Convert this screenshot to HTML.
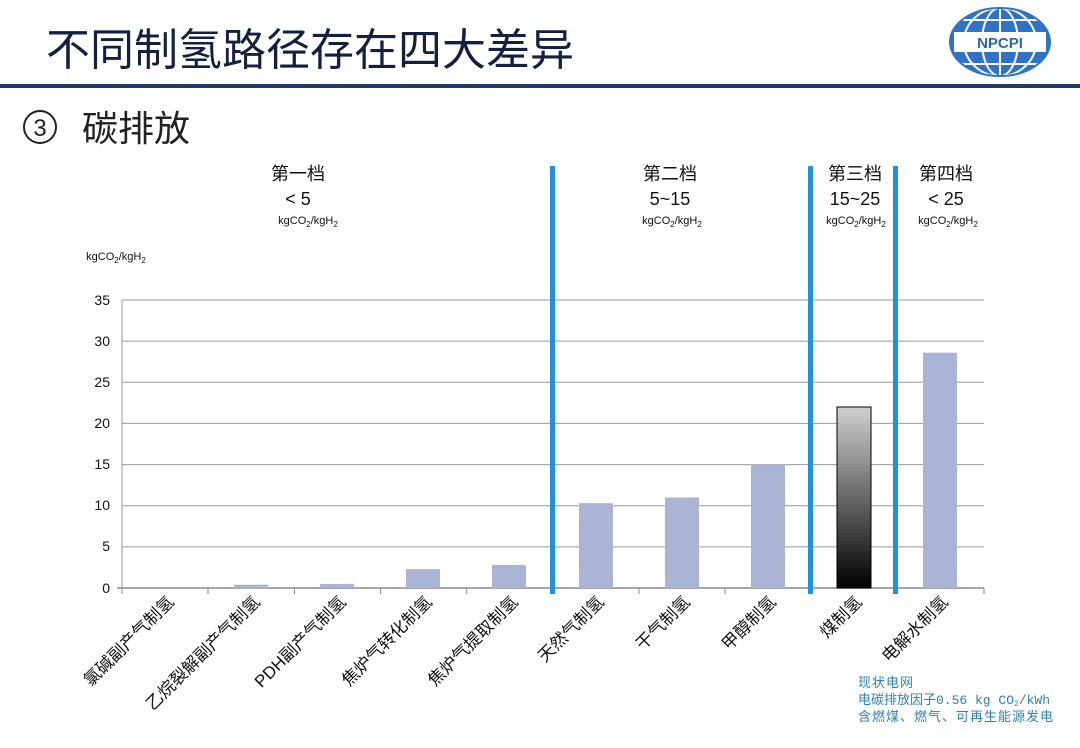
<!DOCTYPE html>
<html><head><meta charset="utf-8"><style>
body{margin:0;width:1080px;height:748px;background:#fff;overflow:hidden}
svg{display:block}
</style></head><body>
<svg width="1080" height="748" xmlns="http://www.w3.org/2000/svg" font-family="Liberation Sans, Noto Sans CJK SC, sans-serif">
<defs>
<linearGradient id="g" x1="0" y1="0" x2="0" y2="1"><stop offset="0" stop-color="#d0d0d0"/><stop offset="1" stop-color="#000"/></linearGradient>
<clipPath id="c"><ellipse cx="1000" cy="42" rx="50" ry="34"/></clipPath>
</defs>
<text x="46" y="65" font-size="44" fill="#13203f">不同制氢路径存在四大差异</text>
<rect x="0" y="84" width="1080" height="4" fill="#1f3a6b"/>
<g clip-path="url(#c)">
<ellipse cx="1000" cy="42" rx="50" ry="34" fill="#2f73c8"/>
<g stroke="#fff" stroke-width="2" fill="none">
<line x1="950" y1="20" x2="1050" y2="20"/><line x1="950" y1="64" x2="1050" y2="64"/>
<ellipse cx="1000" cy="42" rx="18" ry="34"/><ellipse cx="1000" cy="42" rx="36" ry="34"/><line x1="1000" y1="8" x2="1000" y2="76"/>
</g>
<rect x="954" y="32" width="92" height="20" fill="#fff"/>
</g>
<ellipse cx="1000" cy="42" rx="50" ry="34" fill="none" stroke="#2f73c8" stroke-width="2"/>
<text x="1000" y="48" font-size="15" font-weight="bold" fill="#2f63b8" text-anchor="middle">NPCPI</text>
<circle cx="40" cy="127" r="16" fill="none" stroke="#222" stroke-width="2"/>
<text x="40" y="136" font-size="24" text-anchor="middle" fill="#222">3</text>
<text x="82" y="141" font-size="36" fill="#222">碳排放</text>
<g font-size="18" fill="#111" text-anchor="middle">
<text x="298" y="180">第一档</text><text x="298" y="205">&lt; 5</text>
<text x="670" y="180">第二档</text><text x="670" y="205">5~15</text>
<text x="855" y="180">第三档</text><text x="855" y="205">15~25</text>
<text x="946" y="180">第四档</text><text x="946" y="205">&lt; 25</text>
</g>
<g font-size="11" fill="#111" text-anchor="middle">
<text x="308" y="224">kgCO<tspan font-size="8" dy="3">2</tspan><tspan dy="-3">/kgH</tspan><tspan font-size="8" dy="3">2</tspan></text>
<text x="672" y="224">kgCO<tspan font-size="8" dy="3">2</tspan><tspan dy="-3">/kgH</tspan><tspan font-size="8" dy="3">2</tspan></text>
<text x="856" y="224">kgCO<tspan font-size="8" dy="3">2</tspan><tspan dy="-3">/kgH</tspan><tspan font-size="8" dy="3">2</tspan></text>
<text x="948" y="224">kgCO<tspan font-size="8" dy="3">2</tspan><tspan dy="-3">/kgH</tspan><tspan font-size="8" dy="3">2</tspan></text>
<text x="116" y="260">kgCO<tspan font-size="8" dy="3">2</tspan><tspan dy="-3">/kgH</tspan><tspan font-size="8" dy="3">2</tspan></text>
</g>
<g stroke="#999" stroke-width="1">
<line x1="122" y1="300" x2="984" y2="300"/><line x1="122" y1="341.1" x2="984" y2="341.1"/><line x1="122" y1="382.3" x2="984" y2="382.3"/><line x1="122" y1="423.4" x2="984" y2="423.4"/><line x1="122" y1="464.6" x2="984" y2="464.6"/><line x1="122" y1="505.7" x2="984" y2="505.7"/><line x1="122" y1="546.9" x2="984" y2="546.9"/>
<line x1="122" y1="300" x2="122" y2="588"/>
</g>
<line x1="117" y1="588" x2="984" y2="588" stroke="#888" stroke-width="1.5"/>
<g stroke="#888"><line x1="122" y1="588" x2="122" y2="594"/><line x1="208" y1="588" x2="208" y2="594"/><line x1="294.5" y1="588" x2="294.5" y2="594"/><line x1="380.6" y1="588" x2="380.6" y2="594"/><line x1="466.8" y1="588" x2="466.8" y2="594"/><line x1="639" y1="588" x2="639" y2="594"/><line x1="725" y1="588" x2="725" y2="594"/><line x1="984" y1="588" x2="984" y2="594"/></g>
<g font-size="14" fill="#111" text-anchor="end">
<text x="110" y="305">35</text><text x="110" y="346">30</text><text x="110" y="387">25</text><text x="110" y="428">20</text><text x="110" y="469">15</text><text x="110" y="510">10</text><text x="110" y="551">5</text><text x="110" y="593">0</text>
</g>
<g fill="#aab4d4">
<rect x="234" y="584.7" width="34" height="3.3"/>
<rect x="320" y="583.9" width="34" height="4.1"/>
<rect x="406" y="569.1" width="34" height="18.9"/>
<rect x="492" y="565" width="34" height="23"/>
<rect x="579" y="503.2" width="34" height="84.8"/>
<rect x="665" y="497.5" width="34" height="90.5"/>
<rect x="751" y="464.6" width="34" height="123.4"/>
<rect x="923" y="352.7" width="34" height="235.3"/>
</g>
<rect x="837" y="407" width="34" height="181" fill="url(#g)" stroke="#000"/>
<g fill="#1e90e8"><rect x="550" y="166" width="5" height="428"/><rect x="808" y="166" width="5" height="428"/><rect x="893" y="166" width="5" height="428"/></g>
<g font-size="17" fill="#111" text-anchor="end">
<text transform="translate(175,603) rotate(-45)">氯碱副产气制氢</text>
<text transform="translate(261,603) rotate(-45)">乙烷裂解副产气制氢</text>
<text transform="translate(347,603) rotate(-45)">PDH副产气制氢</text>
<text transform="translate(433,603) rotate(-45)">焦炉气转化制氢</text>
<text transform="translate(519,603) rotate(-45)">焦炉气提取制氢</text>
<text transform="translate(605,603) rotate(-45)">天然气制氢</text>
<text transform="translate(691,603) rotate(-45)">干气制氢</text>
<text transform="translate(777,603) rotate(-45)">甲醇制氢</text>
<text transform="translate(863,603) rotate(-45)">煤制氢</text>
<text transform="translate(949,603) rotate(-45)">电解水制氢</text>
</g>
<g font-size="13" fill="#2a7fc0" font-family="Liberation Mono, Noto Sans CJK SC, monospace">
<text x="858" y="687" letter-spacing="1">现状电网</text>
<text x="858" y="704">电碳排放因子0.56 kg CO<tspan font-size="8" dy="2">2</tspan><tspan dy="-2">/kWh</tspan></text>
<text x="858" y="721" letter-spacing="1">含燃煤、燃气、可再生能源发电</text>
</g>
</svg>
</body></html>
